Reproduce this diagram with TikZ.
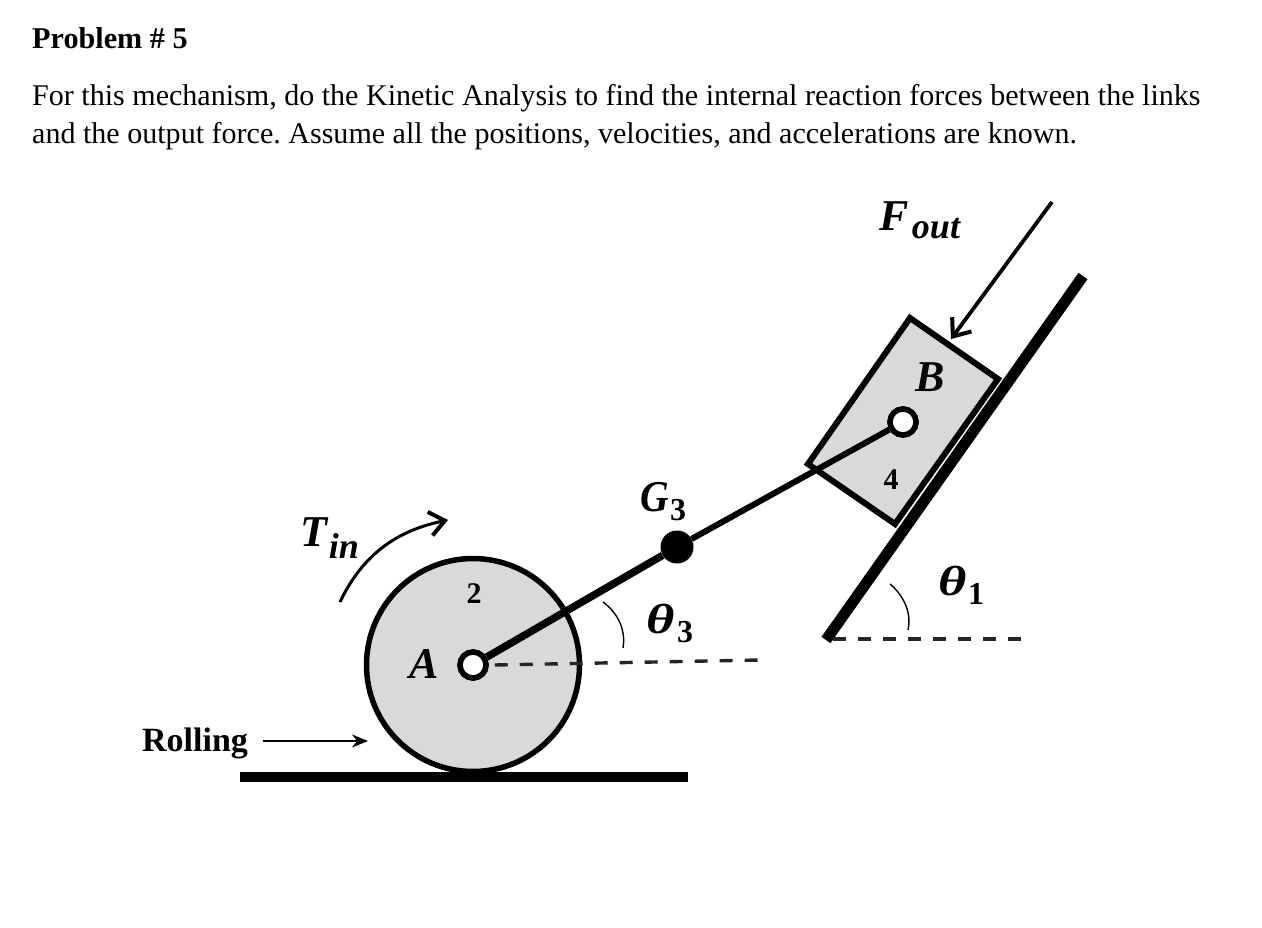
\documentclass[tikz,border=0pt]{standalone}
\usepackage{fontspec}
\setmainfont{Liberation Serif}
\usetikzlibrary{arrows.meta}
\definecolor{partgray}{HTML}{D9D9D9}
\frenchspacing
\tikzset{
  x=1pt,y=-1pt,
  para/.style={anchor=base west,inner sep=0pt,font=\frenchspacing\fontsize{30.05}{36}\selectfont},
  title/.style={anchor=base west,inner sep=0pt,font=\fontsize{30.2}{34}\selectfont\bfseries},
  lab/.style={inner sep=0pt,font=\fontsize{44}{46}\selectfont\bfseries\itshape},
  thetalab/.style={inner sep=0pt,font=\fontsize{42}{46}\selectfont\bfseries\itshape},
  subl/.style={inner sep=0pt,font=\fontsize{36}{38}\selectfont\bfseries\itshape},
  subn/.style={inner sep=0pt,font=\fontsize{32}{34}\selectfont\bfseries},
  num/.style={inner sep=0pt,font=\fontsize{30}{32}\selectfont\bfseries},
  partbody/.style={draw=black,fill=partgray,line width=6pt,line join=miter},
  linkbar/.style={draw=black,line width=6pt},
  pin/.style={circle,draw=black,fill=white,line width=5.5pt,minimum size=26pt,inner sep=0pt},
  mass/.style={circle,fill=black,minimum size=33pt,inner sep=0pt},
  dashline/.style={draw=black!85,line width=3.4pt,dash pattern=on 13pt off 12pt},
  anglearc/.style={draw=black,line width=1.4pt},
  force/.style={draw=black,line width=3.8pt,-{Straight Barb[length=15pt,width=24pt,line width=4pt]}},
  thinforce/.style={draw=black,line width=2pt,-{Stealth[length=16pt,width=13pt]}},
  bar/.style={fill=black,draw=none}
}
\begin{document}
\begin{tikzpicture}
\useasboundingbox (0,0) rectangle (1262,928);
\node[title] (ttl) at (32,49) {Problem \# 5};
\node[para] (l1) at (32,106) {For this mechanism, do the Kinetic Analysis to find the internal reaction forces between the links};
\node[para] (l2) at (32,144) {and the output force. Assume all the positions, velocities, and accelerations are known.};

% floor and wheel
\node[bar,minimum width=448pt,minimum height=10pt,inner sep=0pt] (floor) at (464,777) {};
\node[circle,partbody,line width=5.5pt,minimum size=213pt,inner sep=0pt] (wheel) at (473,665) {};

% incline
\coordinate (i0) at (826,640);
\coordinate (i1) at (1083,276);
\draw[draw=black,line width=11pt] (i0) -- (i1);

% slider
\coordinate (b1) at (910,318);
\coordinate (b2) at (998,379);
\coordinate (b3) at (895,524);
\coordinate (b4) at (808,464);
\draw[partbody] (b1) -- (b2) -- (b3) -- (b4) -- cycle;

% dashed references
\coordinate (d1) at (760,660);
\coordinate (d2) at (1024,639);
\coordinate (d0) at (833,639);
\node[pin] (A) at (473,665) {};
\node[pin] (B) at (903,422) {};
\node[mass] (G) at (677,547) {};
\draw[dashline] (A.east)++(6,0) -- (d1);
\draw[dashline] (d0) -- (d2);

% link
\draw[linkbar,line width=7.5pt] (A) -- (G);
\draw[linkbar,line width=6pt] (G) -- (B);
\node[pin] at (A) {};
\node[pin] at (B) {};

% angle arcs
\coordinate (t3a) at (603,602);
\coordinate (t3b) at (623,648);
\draw[anglearc] (t3a) .. controls (618,613) and (626,630) .. (t3b);
\coordinate (t1a) at (890,584);
\coordinate (t1b) at (908,630);
\draw[anglearc] (t1a) .. controls (903,595) and (912,612) .. (t1b);

% forces
\coordinate (f0) at (1052,202);
\coordinate (f1) at (951,339);
\draw[force] (f0) -- (f1);
\coordinate (m0) at (340,602);
\coordinate (m1) at (448,520);
\draw[force,line width=3pt] (m0) .. controls (362,556) and (395,531) .. (m1);
\coordinate (r0) at (263,741);
\coordinate (r1) at (368,741);
\draw[thinforce] (r0) -- (r1);

% labels
\node[lab] (F) at (894,216) {F};
\node[subl] (Fs) at (936,229) {out};
\node[lab] (Bl) at (930,377) {B};
\node[num] (n4) at (891,480) {4};
\node[num] (n2) at (474,594) {2};
\node[lab] (Al) at (424,664) {A};
\node[lab] (Gl) at (655,497) {\scalebox{.9}[1]{G}};
\node[subn] (Gs) at (678,510) {3};
\node[lab] (Tl) at (314,532) {T};
\node[subl] (Ts) at (344,546) {in};
\node[thetalab] (t3) at (661,619) {\scalebox{1.3}[1]{θ}};
\node[subn] (t3s) at (685,632) {3};
\node[thetalab] (t1) at (953,581) {\scalebox{1.3}[1]{θ}};
\node[subn] (t1s) at (976,594) {1};
\node[inner sep=0pt,font=\fontsize{34}{36}\selectfont\bfseries] (roll) at (195,743) {Rolling};
\end{tikzpicture}
\end{document}
